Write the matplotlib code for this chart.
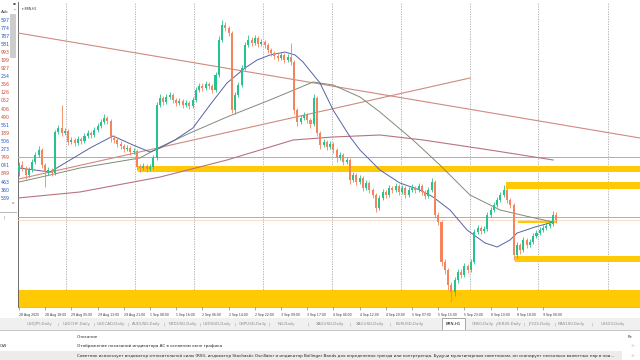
import matplotlib.pyplot as plt
from matplotlib.patches import Rectangle

W, H = 640, 360

# BRN,H1 bars: open of the first bar, then close / high / low of each bar
first_open = 67.88
closes = [67.95, 67.92, 67.85, 67.90, 67.98, 68.05, 68.10, 67.95, 67.88, 67.90,
          67.87, 68.28, 68.32, 68.27, 68.29, 68.18, 68.20, 68.17, 68.21, 68.19,
          68.24, 68.27, 68.25, 68.30, 68.34, 68.38, 68.42, 68.39, 68.22, 68.20,
          68.16, 68.14, 68.11, 68.12, 68.08, 68.09, 67.93, 67.92, 67.94, 67.91,
          67.93, 68.02, 68.55, 68.62, 68.58, 68.63, 68.65, 68.60, 68.57, 68.59,
          68.55, 68.57, 68.54, 68.60, 68.70, 68.74, 68.72, 68.76, 68.74, 68.70,
          68.85, 69.20, 69.35, 69.32, 69.27, 68.50, 68.65, 68.75, 68.92, 69.15,
          69.20, 69.17, 69.22, 69.16, 69.18, 69.15, 69.10, 69.07, 69.04, 69.02,
          69.05, 69.00, 69.03, 68.98, 68.50, 68.38, 68.42, 68.45, 68.40, 68.36,
          68.62, 68.27, 68.15, 68.18, 68.13, 68.16, 68.10, 68.02, 68.05, 67.98,
          68.00, 67.80, 67.85, 67.78, 67.82, 67.72, 67.77, 67.70, 67.65, 67.52,
          67.62, 67.68, 67.65, 67.72, 67.70, 67.74, 67.68, 67.72, 67.65, 67.70,
          67.72, 67.70, 67.74, 67.68, 67.64, 67.70, 67.78, 67.45, 67.38, 66.98,
          66.90, 66.75, 66.68, 66.80, 66.88, 66.85, 66.94, 66.90, 66.98, 67.28,
          67.32, 67.29, 67.31, 67.45, 67.50, 67.55, 67.60, 67.65, 67.70, 67.60,
          67.55, 67.05, 67.15, 67.10, 67.20, 67.15, 67.18, 67.24, 67.27, 67.30,
          67.32, 67.34, 67.36, 67.45, 67.40]
highs = [67.98, 67.99, 67.94, 67.93, 68.01, 68.08, 68.14, 68.12, 67.97, 67.93,
         67.92, 68.30, 68.35, 68.55, 68.32, 68.31, 68.23, 68.22, 68.24, 68.23,
         68.27, 68.30, 68.29, 68.33, 68.37, 68.41, 68.46, 68.44, 68.41, 68.25,
         68.22, 68.19, 68.16, 68.15, 68.14, 68.12, 68.11, 67.96, 67.97, 67.96,
         67.96, 68.05, 68.58, 68.66, 68.64, 68.66, 68.68, 68.67, 68.62, 68.62,
         68.61, 68.60, 68.59, 68.63, 68.73, 68.77, 68.77, 68.79, 68.78, 68.76,
         68.88, 69.24, 69.40, 69.38, 69.34, 69.29, 68.68, 68.78, 68.95, 69.18,
         69.25, 69.23, 69.25, 69.24, 69.21, 69.20, 69.17, 69.12, 69.09, 69.07,
         69.08, 69.07, 69.06, 69.17, 69.00, 68.52, 68.45, 68.48, 68.47, 68.42,
         68.66, 68.64, 68.29, 68.21, 68.20, 68.19, 68.18, 68.12, 68.08, 68.07,
         68.03, 68.02, 67.88, 67.87, 67.85, 67.84, 67.80, 67.79, 67.72, 67.67,
         67.65, 67.71, 67.70, 67.75, 67.74, 67.77, 67.76, 67.75, 67.74, 67.73,
         67.76, 67.74, 67.77, 67.76, 67.70, 67.73, 67.82, 67.80, 67.48, 67.40,
         67.01, 66.92, 66.78, 66.83, 66.91, 66.91, 66.97, 66.96, 67.01, 67.31,
         67.35, 67.34, 67.34, 67.48, 67.53, 67.58, 67.63, 67.68, 67.75, 67.72,
         67.62, 67.57, 67.18, 67.17, 67.23, 67.22, 67.21, 67.27, 67.30, 67.33,
         67.35, 67.37, 67.39, 67.49, 67.48]
lows = [67.84, 67.89, 67.81, 67.83, 67.88, 67.96, 68.03, 67.92, 67.73, 67.85,
        67.84, 67.85, 68.26, 68.24, 68.25, 68.15, 68.16, 68.14, 68.15, 68.16,
        68.17, 68.22, 68.22, 68.23, 68.28, 68.32, 68.36, 68.36, 68.18, 68.17,
        68.13, 68.11, 68.08, 68.09, 68.05, 68.06, 67.90, 67.88, 67.90, 67.88,
        67.89, 67.91, 68.00, 68.53, 68.55, 68.56, 68.61, 68.57, 68.54, 68.55,
        68.52, 68.53, 68.51, 68.52, 68.58, 68.68, 68.69, 68.70, 68.71, 68.67,
        68.68, 68.83, 69.18, 69.29, 69.24, 68.47, 68.46, 68.63, 68.73, 68.90,
        69.13, 69.14, 69.15, 69.13, 69.14, 69.12, 69.07, 69.04, 69.01, 68.99,
        69.00, 68.97, 68.98, 68.95, 68.46, 68.34, 68.36, 68.40, 68.37, 68.32,
        68.34, 68.24, 68.11, 68.13, 68.10, 68.11, 68.07, 67.98, 68.00, 67.95,
        67.96, 67.76, 67.78, 67.75, 67.76, 67.69, 67.70, 67.67, 67.62, 67.48,
        67.50, 67.60, 67.62, 67.63, 67.67, 67.68, 67.65, 67.66, 67.62, 67.63,
        67.68, 67.67, 67.68, 67.65, 67.61, 67.62, 67.68, 67.42, 67.35, 66.94,
        66.86, 66.70, 66.58, 66.64, 66.77, 66.82, 66.83, 66.87, 66.88, 66.96,
        67.26, 67.26, 67.27, 67.29, 67.43, 67.48, 67.53, 67.58, 67.63, 67.57,
        67.52, 67.00, 67.02, 67.06, 67.08, 67.12, 67.13, 67.16, 67.22, 67.25,
        67.28, 67.30, 67.32, 67.34, 67.37]

# moving averages (bar index, price)
ma_fast_x = [0, 9.5, 15.6, 21.7, 28.7, 34.8, 40.0, 43.1, 47.6, 53.1, 58.3, 63.5, 69.0,
             72.7, 76.6, 81.2, 84.3, 86.7, 91.9, 95.9, 101.1, 104.1, 110.2, 116.3,
             122.4, 126.4, 131.6, 136.8, 142.3, 146.0, 149.9, 152.1, 157.6, 163.1]
ma_fast_y = [67.92, 67.88, 68.00, 68.12, 68.24, 68.15, 68.08, 68.12, 68.20, 68.32, 68.55,
             68.77, 68.92, 69.00, 69.05, 69.08, 69.05, 68.98, 68.77, 68.50, 68.23, 68.10,
             67.90, 67.77, 67.70, 67.63, 67.50, 67.30, 67.17, 67.13, 67.20, 67.27,
             67.33, 67.38]
ma_mid_x = [0, 9.5, 18.6, 27.8, 36.9, 43.1, 52.2, 63.5, 76.6, 89.8, 95.9, 104.1, 110.2,
            120.3, 128.5, 137.7, 146.9, 156.0, 163.1]
ma_mid_y = [67.78, 67.85, 67.92, 67.97, 68.02, 68.13, 68.27, 68.43, 68.60, 68.78, 68.75,
            68.63, 68.48, 68.20, 67.95, 67.65, 67.50, 67.43, 67.38]
ma_slow_x = [-0.3, 18.6, 43.1, 63.5, 83.7, 95.9, 110.2, 123.4, 143.8, 163.1]
ma_slow_y = [67.62, 67.68, 67.83, 68.00, 68.20, 68.23, 68.25, 68.20, 68.10, 68.00]

# trend lines (bar, price) pairs
trend_down = ([-0.3, 189.6], [69.27, 68.22])
trend_up = ([0, 137.7], [67.81, 68.82])
hlines = [68.03, 67.43, 67.40]

# yellow zones: start bar, end bar (None = right edge), low, high
zones = [(36.3, None, 67.88, 67.94),
         (148.7, None, 67.71, 67.78),
         (151.5, None, 66.98, 67.04),
         (152.4, 164.3, 67.37, 67.40),
         (-0.3, None, 66.53, 66.70)]

grid_bars = [14.4, 35.4, 53.5, 74.5, 95.6, 116.7, 137.7, 158.5, 179.8]

time_labels = ['28 Aug 2025', '28 Aug 18:00', '29 Aug 05:00', '29 Aug 13:00',
               '29 Aug 21:00', '1 Sep 08:00', '1 Sep 16:00', '2 Sep 06:00',
               '2 Sep 14:00', '2 Sep 22:00', '3 Sep 09:00', '3 Sep 17:00',
               '4 Sep 04:00', '4 Sep 12:00', '4 Sep 20:00', '5 Sep 07:00',
               '5 Sep 15:00', '5 Sep 23:00', '8 Sep 10:00', '8 Sep 18:00',
               '9 Sep 00:00']
label_step = 8

tabs = ['USDJPY,Daily', 'USDCHF,Daily', 'USDCAD,Daily', 'AUDUSD,Daily',
        'NZDUSD,Daily', 'USDSGD,Daily', 'GBPUSD,Daily', 'NG,Daily',
        'XAGUSD,Daily', 'XAUUSD,Daily', 'EURUSD,Daily', 'BRN,H1',
        'CN50,Daily', 'GER40,Daily', 'JP225,Daily', 'NAS100,Daily', 'US500,Daily']
tab_x = [39, 77, 111, 146, 183, 217, 253, 286, 330, 370, 410, 453, 483, 509,
         539, 571, 613]
active_tab = 'BRN,H1'

ask_values = ['597', '774', '787', '581', '993', '199', '927', '254', '356', '126',
              '052', '406', '490', '551', '189', '506', '273', '749', '041', '849',
              '463', '360', '539']
ask_up = [1, 1, 1, 1, 0, 0, 0, 1, 0, 0, 0, 0, 0, 1, 0, 1, 1, 0, 1, 0, 1, 1, 1]

desc_header = 'Описание'
desc_rows = ['Отображение показаний индикатора AC в основном окне графика',
             'Советник использует индикатор относительной силы (RSI), индикатор '
             'Stochastic Oscillator и индикатор Bollinger Bands для определения тренда '
             'или контртренда. Будучи мультипарным советником, он сканирует несколько '
             'валютных пар в пои...']

BULL = '#26c48c'
BEAR = '#f3845c'
YELLOW = '#ffc905'


def fx(x):
    return x / W


def fy(y):
    return 1 - y / H


def box(x0, y0, x1, y1, **kw):
    fig.add_artist(Rectangle((fx(x0), fy(y1)), fx(x1) - fx(x0), fy(y0) - fy(y1),
                             transform=fig.transFigure, **kw))


def fit_size(text, width_px):
    # font size at which the text is width_px wide
    t = fig.text(0, 0, text, fontsize=10)
    w = t.get_window_extent(renderer=fig.canvas.get_renderer()).width
    t.remove()
    return 10 * width_px / w


plt.rcParams['font.family'] = ['DejaVu Sans']
fig = plt.figure(figsize=(6.4, 3.6), dpi=100)
fig.patch.set_facecolor('white')

ax = fig.add_axes([fx(18), fy(307), fx(640) - fx(18), fy(2) - fy(307)])
ax.set_xlim(-0.3, 189.6)
ax.set_ylim(66.53, 69.58)

for b in grid_bars:
    ax.axvline(b, color='#a8a8a8', lw=0.6, ls=(0, (1.5, 1.5)), zorder=1)

for x0, x1, lo, hi in zones:
    x1 = 189.6 if x1 is None else x1
    ax.add_patch(Rectangle((x0, lo), x1 - x0, hi - lo, color=YELLOW, lw=0, zorder=2))

for y in hlines[:2]:
    ax.axhline(y, color='#e49a84', lw=0.7, zorder=3)
ax.axhline(hlines[2], color='#f9d6c0', lw=0.6, zorder=3)

ax.plot(*trend_down, color='#cf8a80', lw=0.8, zorder=3)
ax.plot(*trend_up, color='#cf8a80', lw=0.8, zorder=3)
ax.plot(ma_slow_x, ma_slow_y, color='#b9737e', lw=0.8, zorder=3)
ax.plot(ma_mid_x, ma_mid_y, color='#7e8c78', lw=0.7, zorder=4)
ax.plot(ma_fast_x, ma_fast_y, color='#5563a6', lw=0.7, zorder=4)

opens = [first_open] + closes[:-1]
for i, (o, c, h, l) in enumerate(zip(opens, closes, highs, lows)):
    col = BULL if c >= o else BEAR
    ax.vlines(i, l, h, color=col, lw=0.6, zorder=5)
    ax.bar(i, max(abs(c - o), 0.008), bottom=min(o, c), width=0.62, color=col,
           lw=0, zorder=5)

tick_fs = fit_size(time_labels[0], 20)
tab_fs = fit_size(tabs[0], 26)

ax.set_xticks(range(0, label_step * len(time_labels), label_step))
ax.set_xticklabels(time_labels, fontsize=tick_fs, ha='left', color='#333333')
ax.tick_params(axis='x', length=2, width=0.4, pad=2.5, color='#666666')
ax.set_yticks([])
for side in ['top', 'right']:
    ax.spines[side].set_visible(False)
ax.spines['left'].set_color('#555555')
ax.spines['left'].set_linewidth(0.6)
ax.spines['bottom'].set_color('#888888')
ax.spines['bottom'].set_linewidth(0.4)
ax.text(0.006, 0.985, '\u25be BRN,H1', transform=ax.transAxes, fontsize=tick_fs,
        va='top', color='#333333')

# market watch column on the left
box(0, 0, 17, 316, facecolor='white', edgecolor='none')
box(10, 14, 16, 58, facecolor='#cdcdcd', edgecolor='none')
fig.text(fx(0.5), fy(12), 'Ask', fontsize=3.2, va='center', color='#333333')
fig.text(fx(13), fy(11), '^', fontsize=3.2, va='center', color='#555555')
fig.text(fx(13), fy(3), '\u25aa', fontsize=3.2, va='center', color='#555555')
for k, (v, up) in enumerate(zip(ask_values, ask_up)):
    fig.text(fx(0.5), fy(20 + 8.1 * k), v, fontsize=3.4, va='center',
             color='#2857c4' if up else '#c8503a')
fig.text(fx(12), fy(203), 'v', fontsize=3.0, va='center', color='#555555')
box(0, 212, 17, 213, facecolor='#bbbbbb', edgecolor='none')
fig.text(fx(4), fy(218), '|', fontsize=3.0, va='center', color='#777777')

# symbol tabs
box(0, 318, 640, 330, facecolor='#f0f0f0', edgecolor='none')
for name, x in zip(tabs, tab_x):
    if name == active_tab:
        box(x - 11, 318, x + 12, 330, facecolor='white', edgecolor='#888888', lw=0.5)
        fig.text(fx(x), fy(324), name, fontsize=tab_fs, ha='center', va='center',
                 color='#111111')
    else:
        fig.text(fx(x), fy(324), name, fontsize=tab_fs, ha='center', va='center',
                 color='#8a8a8a')
for k in range(len(tabs) - 1):
    if active_tab in (tabs[k], tabs[k + 1]):
        continue
    fig.text(fx((tab_x[k] + tab_x[k + 1]) / 2), fy(324), '|', fontsize=tab_fs,
             ha='center', va='center', color='#9a9a9a')

# description panel
box(0, 330, 640, 331, facecolor='#c8c8c8', edgecolor='none')
box(0, 351, 622, 360, facecolor='#ececec', edgecolor='none')
row_fs = fit_size(desc_rows[1], 548)
fig.text(fx(77), fy(337), desc_header, fontsize=row_fs, va='center', color='#333333')
fig.text(fx(0), fy(346), 'OW', fontsize=row_fs, va='center', color='#222222')
fig.text(fx(77), fy(346), desc_rows[0], fontsize=row_fs, va='center', color='#222222')
fig.text(fx(77), fy(356), desc_rows[1], fontsize=row_fs, va='center', color='#222222')
fig.text(fx(628), fy(337), 'Ре', fontsize=2.8, va='center', color='#333333')
for y in (346, 356):
    fig.text(fx(631), fy(y), '\u2606', fontsize=3.0, va='center', color='#c9a040')

fig.savefig('out.png', dpi=100)
